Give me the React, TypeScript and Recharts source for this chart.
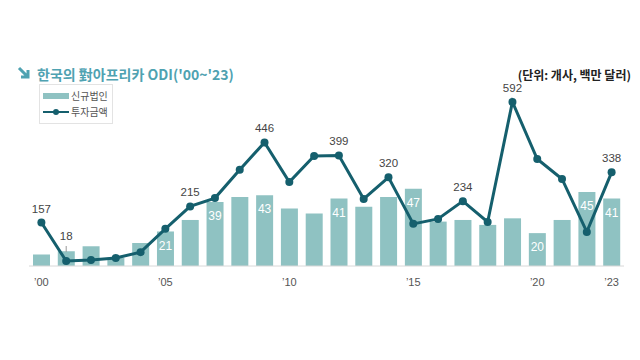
import React from "react";
import { ComposedChart, Bar, Line, XAxis, YAxis, LabelList, Legend } from "recharts";

// 연도 (2000~2023)
const years = [
  "00", "01", "02", "03", "04", "05", "06", "07", "08", "09", "10", "11",
  "12", "13", "14", "15", "16", "17", "18", "19", "20", "21", "22", "23",
];
// 신규법인 (개사)
const newCorps = [7, 9, 12, 5, 14, 21, 28, 39, 42, 43, 35, 32, 41, 36, 42, 47, 27, 28, 25, 29, 20, 28, 45, 41];
// 투자금액 (백만 달러)
const investment = [157, 18, 22, 29, 50, 134, 215, 245, 347, 446, 303, 397, 399, 242, 320, 152, 170, 234, 159, 592, 386, 314, 123, 338];

const tickYears = ["00", "05", "10", "15", "20", "23"];
const labeledCorps = ["05", "07", "09", "12", "15", "20", "22", "23"];
const labeledInvest = ["00", "01", "06", "09", "12", "14", "17", "19", "23"];

const BAR_COLOR = "#8fc2c2";
const LINE_COLOR = "#155f6d";
const TITLE_COLOR = "#4fa2b1";

const data = years.map((y, i) => ({ year: y, corps: newCorps[i], invest: investment[i] }));

const fmtTick = (v: string) => (tickYears.includes(v) ? "\u2019" + v : "");

const BarLabel = (props: any) => {
  const { x, y, width, value, index } = props;
  if (!labeledCorps.includes(years[index])) return null;
  return (
    <text x={x + width / 2} y={y + 15} textAnchor="middle" dominantBaseline="middle"
      fill="#fff" fontSize={12} fontFamily="Liberation Sans, Arial, sans-serif">
      {value}
    </text>
  );
};

const LineLabel = (props: any) => {
  const { x, y, value, index } = props;
  if (!labeledInvest.includes(years[index])) return null;
  const up = years[index] === "01" ? 24 : 13;
  return (
    <g>
      {years[index] === "01" && (
        <line x1={x} x2={x} y1={y - 15} y2={y - 9} stroke="#999" strokeWidth={1} />
      )}
      <text x={x} y={y - up} textAnchor="middle" dominantBaseline="middle"
        fill="#444" fontSize={11.5} fontFamily="Liberation Sans, Arial, sans-serif">
        {value}
      </text>
    </g>
  );
};

const renderLegend = (props: any) => {
  const { payload } = props;
  return (
    <div style={{ border: "1px solid #e3e3e3", padding: "3px 4px 3px 3px", background: "#fff",
      fontFamily: "'Noto Sans CJK KR', sans-serif", fontSize: 10, color: "#555", lineHeight: "16px" }}>
      {payload.map((p: any) => (
        <div key={p.value} style={{ display: "flex", alignItems: "center" }}>
          {p.type === "rect" ? (
            <svg width={26} height={10} style={{ marginRight: 2 }}>
              <rect x={0} y={2} width={26} height={6} fill={BAR_COLOR} />
            </svg>
          ) : (
            <svg width={26} height={10} style={{ marginRight: 2 }}>
              <line x1={0} x2={26} y1={5} y2={5} stroke={LINE_COLOR} strokeWidth={2} />
              <circle cx={13} cy={5} r={3} fill={LINE_COLOR} />
            </svg>
          )}
          <span>{p.value}</span>
        </div>
      ))}
    </div>
  );
};

export default function App() {
  return (
    <div style={{ position: "absolute", left: 0, top: 0, width: 640, height: 360, background: "#fff", overflow: "hidden" }}>
      <svg width={14} height={14} style={{ position: "absolute", left: 17, top: 66 }}>
        <path d="M2,2 L11,11 M11,4 L11,11 L4,11" stroke={TITLE_COLOR} strokeWidth={3} fill="none" />
      </svg>
      <div style={{ position: "absolute", left: 37, top: 63, fontFamily: "'Noto Sans CJK KR', sans-serif",
        fontWeight: 700, fontSize: 14, color: TITLE_COLOR, whiteSpace: "nowrap", lineHeight: "22px" }}>
        한국의 對아프리카 ODI('00~'23)
      </div>
      <div style={{ position: "absolute", right: 9, top: 65, fontFamily: "'Noto Sans CJK KR', sans-serif",
        fontWeight: 700, fontSize: 12, color: "#222", whiteSpace: "nowrap", lineHeight: "20px" }}>
        (단위: 개사, 백만 달러)
      </div>
      <ComposedChart width={640} height={360} data={data}
        margin={{ top: 72, right: 16, bottom: 64, left: 29 }}>
        <XAxis dataKey="year" interval={0} tickFormatter={fmtTick} tickLine={false}
          axisLine={{ stroke: "#d8d8d8" }} height={30}
          tick={{ fontSize: 11, fill: "#555", fontFamily: "Liberation Sans, Arial, sans-serif" }} tickMargin={6} />
        <YAxis yAxisId="bar" hide domain={[0, 118]} />
        <YAxis yAxisId="line" hide domain={[0, 700]} />
        <Legend content={renderLegend} layout="vertical" align="center" verticalAlign="middle"
          wrapperStyle={{ left: 39, top: 84, width: "auto", height: "auto" }} />
        <Bar yAxisId="bar" dataKey="corps" name="신규법인" fill={BAR_COLOR} barSize={17}
          isAnimationActive={false} legendType="rect">
          <LabelList dataKey="corps" content={BarLabel} />
        </Bar>
        <Line yAxisId="line" dataKey="invest" name="투자금액" stroke={LINE_COLOR} strokeWidth={3}
          type="linear" dot={{ r: 4, fill: LINE_COLOR, stroke: LINE_COLOR, strokeWidth: 0 }}
          isAnimationActive={false} legendType="line">
          <LabelList dataKey="invest" content={LineLabel} />
        </Line>
      </ComposedChart>
    </div>
  );
}
